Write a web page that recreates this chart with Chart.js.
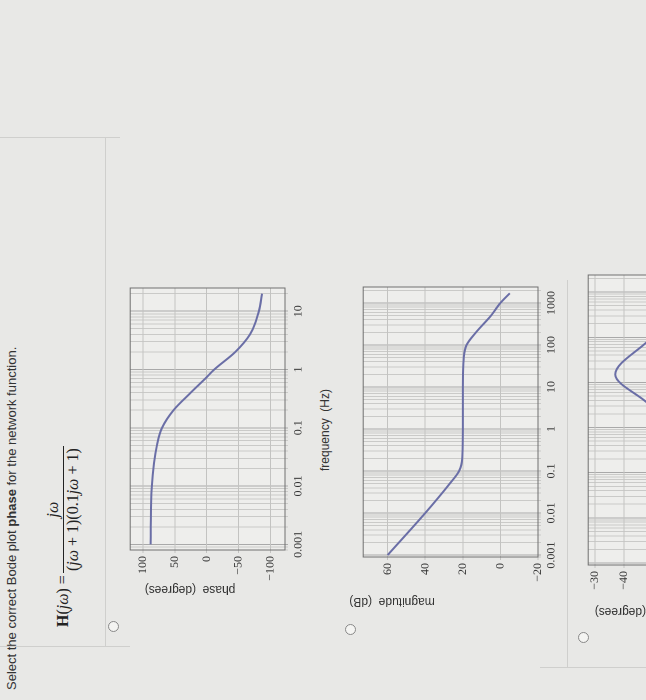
<!DOCTYPE html>
<html><head><meta charset="utf-8">
<script src="https://cdn.jsdelivr.net/npm/chart.js@4"></script>
<style>
html,body{margin:0;padding:0;background:#e7e7e5;overflow:hidden;width:646px;height:700px}
#page{position:absolute;left:0;top:0;width:700px;height:646px;transform-origin:0 0;transform:translate(0,700px) rotate(-90deg);background:#e8e8e6;overflow:hidden;font-family:"Liberation Sans",Arial,sans-serif;color:#333}
.abs{position:absolute}
canvas{position:absolute}
.line{position:absolute;background:#cfcfcd}
.radio{position:absolute;width:9px;height:9px;border:1px solid #888;border-radius:50%;background:#f4f4f2}
.ytitle{position:absolute;transform:translate(-50%,-50%) rotate(-90deg);font-size:12px;white-space:nowrap;color:#333}
.math{font-family:"Liberation Serif","DejaVu Serif",serif;font-size:16px;color:#222}
</style></head><body>
<div id="page">
  <div class="abs" style="left:10px;top:4px;font-size:13px;white-space:nowrap">Select the correct Bode plot <b>phase</b> for the network function.</div>
  <div class="abs math" style="left:73px;top:44px;display:flex;align-items:center;white-space:nowrap">
    <span><b>H</b>(<i>j</i><i>ω</i>) =&nbsp;</span>
    <span style="display:inline-flex;flex-direction:column;align-items:center">
      <span style="border-bottom:1px solid #222;padding:0 2px 1px;width:100%;text-align:center"><i>jω</i></span>
      <span>(<i>jω</i> + 1)(0.1<i>jω</i> + 1)</span>
    </span>
  </div>
  <div class="line" style="left:53px;top:105px;width:509px;height:1px"></div>
  <div class="line" style="left:53px;top:0;width:1px;height:130px"></div>
  <div class="line" style="left:562px;top:0;width:1px;height:120px"></div>
  <div class="line" style="left:32px;top:567px;width:388px;height:1px"></div>
  <div class="line" style="left:32px;top:540px;width:1px;height:106px"></div>
  <div class="radio" style="left:68px;top:108px"></div>
  <div class="radio" style="left:65px;top:345px"></div>
  <div class="radio" style="left:57px;top:578px"></div>

  <canvas id="c1"></canvas>
  <div class="ytitle" style="left:110px;top:190px">phase &nbsp;(degrees)</div>
  <div class="abs" style="left:270px;top:318px;transform:translateX(-50%);font-size:12px;white-space:nowrap">frequency &nbsp;(Hz)</div>

  <canvas id="c2"></canvas>
  <div class="ytitle" style="left:98px;top:392px">magnitude &nbsp;(dB)</div>

  <canvas id="c3"></canvas>
  <div class="ytitle" style="left:88px;top:640px">phase &nbsp;(degrees)</div>
</div>
<script>
// ---- data ----
const phaseFreq  = [0.001, 0.01, 0.05, 0.1, 0.2, 0.4, 0.7, 1, 2, 4, 10, 20];
const phaseDeg   = [88, 86, 78, 70, 52, 25, 2, -12, -45, -68, -82, -87];
const phaseTicks = [100, 50, 0, -50, -100];
const phaseFreqLabels = ['0.001','0.01','0.1','1','10'];

const magFreq  = [0.001, 0.01, 0.05, 0.1, 0.2, 1, 10, 50, 100, 200, 500, 1000, 1700];
const magDb    = [60, 40, 27, 22, 20.3, 20, 20, 19.5, 18, 13, 5, 0, -5];
const magTicks = [60, 40, 20, 0, -20];
const magFreqLabels = ['0.001','0.01','0.1','1','10','100','1000'];

const opt3Freq = [1, 4, 15, 70, 300];
const opt3Deg  = [-60, -47, -37, -47, -60];
const opt3Ticks = [-30, -40, -50];

// ---- helpers ----
const curveColor = '#6a6ea6';
const frame = {id:'frame', afterDraw(ch){const a=ch.chartArea,c=ch.ctx;c.save();c.strokeStyle='#6f6f6f';c.lineWidth=1;c.strokeRect(a.left,a.top,a.right-a.left,a.bottom-a.top);c.restore();}};
const bg = {id:'bg', beforeDraw(ch){const a=ch.chartArea,c=ch.ctx;c.save();c.fillStyle='#eeeeec';c.fillRect(a.left,a.top,a.right-a.left,a.bottom-a.top);c.restore();}};
const isDecade = v => Math.abs(Math.log10(v) - Math.round(Math.log10(v))) < 1e-6;
const tickFont = {family:'"Liberation Serif", serif', size:12};

function makeChart(id, box, xs, ys, fmin, fmax, fLabels, ymin, ymax, yTicks, yW, xH, pad){
  const cv = document.getElementById(id);
  cv.style.left = box.left+'px'; cv.style.top = box.top+'px';
  cv.width = box.w; cv.height = box.h;
  new Chart(cv, {
    type:'line',
    data:{datasets:[{data: xs.map((f,i)=>({x:f, y:ys[i]})), borderColor:curveColor, borderWidth:2, pointRadius:0, cubicInterpolationMode:'monotone', fill:false}]},
    options:{
      responsive:false, animation:false, devicePixelRatio:2,
      layout:{padding:pad},
      plugins:{legend:{display:false}, tooltip:{enabled:false}},
      scales:{
        x:{type:'logarithmic', min:fmin, max:fmax,
           afterFit(s){s.height=xH;},
           afterBuildTicks(s){const t=[];for(let e=-4;e<=4;e++)for(let m=1;m<=9;m++){const v=m*Math.pow(10,e);if(v>=fmin&&v<=fmax)t.push({value:v});}s.ticks=t;},
           ticks:{autoSkip:false, maxRotation:0, minRotation:0, color:'#333', font:tickFont,
             callback(v){ if(!isDecade(v)) return ''; const s=String(+v.toPrecision(3)); return fLabels.includes(s)?s:''; }},
           grid:{color:c=>isDecade(c.tick.value)?'#a9a9a9':'#cacac8', lineWidth:1, tickLength:3},
           border:{display:false}},
        y:{type:'linear', min:ymin, max:ymax,
           afterFit(s){s.width=yW;},
           afterBuildTicks(s){s.ticks=yTicks.map(v=>({value:v}));},
           ticks:{color:'#333', font:tickFont, callback:v=>v<0?'\u2212'+Math.abs(v):String(v)},
           grid:{color:'#c3c3c1', tickLength:3},
           border:{display:false}}
      }
    },
    plugins:[bg, frame]
  });
}
makeChart('c1',{left:105,top:120,w:312,h:195}, phaseFreq, phaseDeg, 0.0008, 25, phaseFreqLabels, -123, 120, phaseTicks, 45, 30, {top:5,right:5});
makeChart('c2',{left:105,top:353,w:313,h:215}, magFreq, magDb, 0.0009, 2400, magFreqLabels, -20, 73, magTicks, 38, 30, {top:5,right:5});
makeChart('c3',{left:100,top:578,w:330,h:200}, opt3Freq, opt3Deg, 0.0009, 2400, [], -82.7, -27.7, opt3Ticks, 35, 30, {top:5,right:5});
</script>
</body></html>
